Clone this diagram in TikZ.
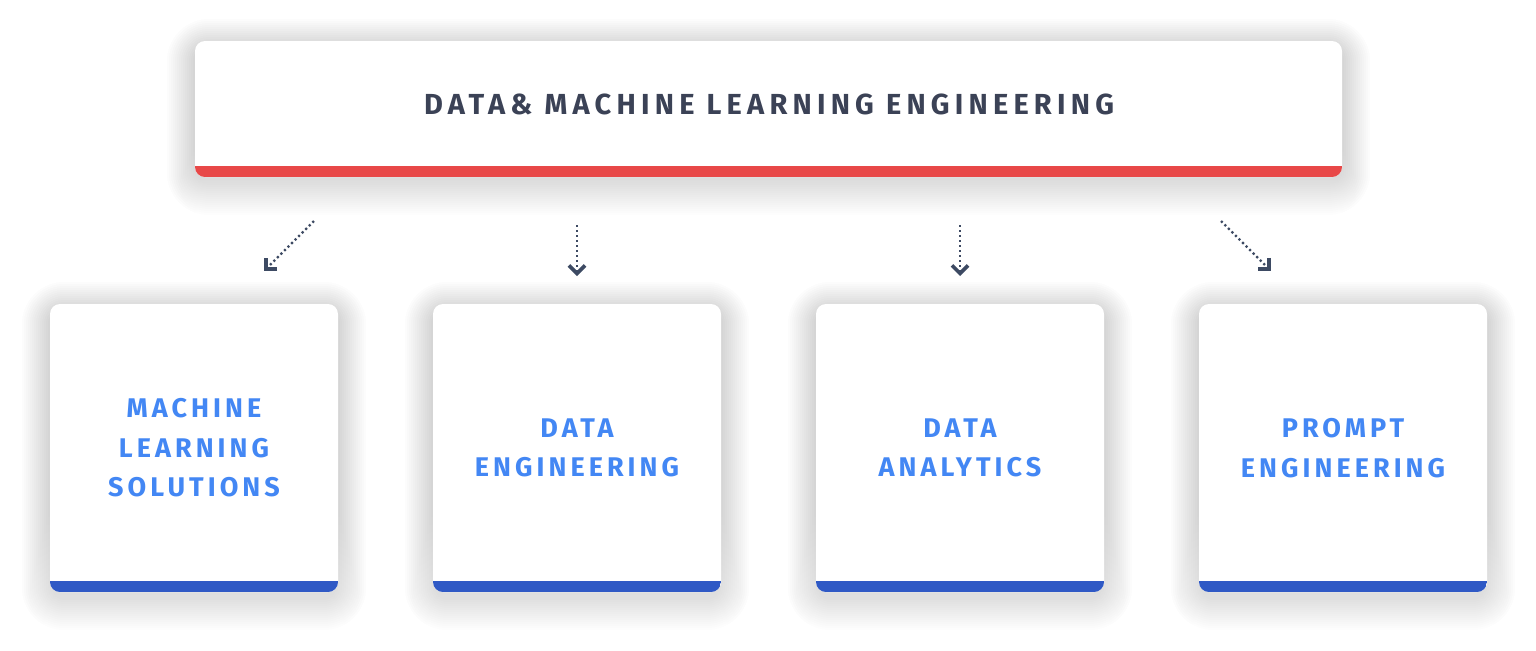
\documentclass[tikz,border=0pt]{standalone}
\usepackage{fontspec}
\setmainfont{Fira Sans}
\newfontfamily\capsfont[LetterSpace=15,UprightFont={* Bold}]{Fira Sans}
\newfontfamily\titlefont[LetterSpace=18,UprightFont={* Bold}]{Fira Sans}
\usetikzlibrary{arrows.meta}

\definecolor{inkdark}{HTML}{3B4256}
\definecolor{arrowink}{HTML}{3D4A63}
\definecolor{topred}{HTML}{E84848}
\definecolor{boxblue}{HTML}{2F59C5}
\definecolor{textblue}{HTML}{4387F4}
\definecolor{shade}{HTML}{7F89BC}

\tikzset{
  title/.style={font=\titlefont\fontsize{14.5}{19.75}\selectfont, text=inkdark},
  label/.style={font=\capsfont\fontsize{13.5}{19.75}\selectfont, text=textblue, align=center},
  dotarrow/.style={arrowink, line width=1.2pt, dash pattern=on 1.1pt off 1.4pt,
    -{Straight Barb[length=4pt,width=8pt,line width=1.8pt,line cap=butt]}}
}

% soft shadow round a card
\newcommand{\cardshade}[4]{%
  \foreach \i in {1,...,16}
    \fill[shade, opacity=0.0065, rounded corners={5pt+\i pt}]
      (#1-2*\i+4,#2-2*\i+10) rectangle (#3+2*\i-4,#4+2*\i+6);
}

\begin{document}
\begin{tikzpicture}[x=0.5pt,y=-0.5pt]
\useasboundingbox (0,0) rectangle (1536,650);
\fill[white] (0,0) rectangle (1536,650);

% top card
\cardshade{195}{41}{1342}{177}
\fill[white, rounded corners=5pt] (195,41) rectangle (1342,177);
\begin{scope}
  \clip[rounded corners=5pt] (195,41) rectangle (1342,177);
  \fill[topred] (195,166) rectangle (1342,177);
\end{scope}
\node[title] (main) at (769,104) {DATA\& MACHINE LEARNING ENGINEERING};

% four cards below
\foreach \x/\name/\txt in {50/mls/{MACHINE\\LEARNING\\SOLUTIONS},
                          433/deng/{DATA\\ENGINEERING},
                          816/dana/{DATA\\ANALYTICS},
                          1199/peng/{PROMPT\\ENGINEERING}}{
  \cardshade{\x}{304}{\x+288}{592}
  \fill[white, rounded corners=5pt] (\x,304) rectangle (\x+288,592);
  \begin{scope}
    \clip[rounded corners=5pt] (\x,304) rectangle (\x+288,592);
    \fill[boxblue] (\x,581) rectangle (\x+288,592);
  \end{scope}
  \node[label] (\name) at (\x+144,448) {\txt};
}

% arrows
\coordinate (a1) at (314,221);  \coordinate (b1) at (264,271);
\coordinate (a2) at (577,225);  \coordinate (b2) at (577,276);
\coordinate (a3) at (960,225);  \coordinate (b3) at (960,276);
\coordinate (a4) at (1221,221); \coordinate (b4) at (1271,271);

\draw[dotarrow] (a1) -- (b1);
\draw[dotarrow] (a2) -- (b2);
\draw[dotarrow] (a3) -- (b3);
\draw[dotarrow] (a4) -- (b4);

\end{tikzpicture}
\end{document}
